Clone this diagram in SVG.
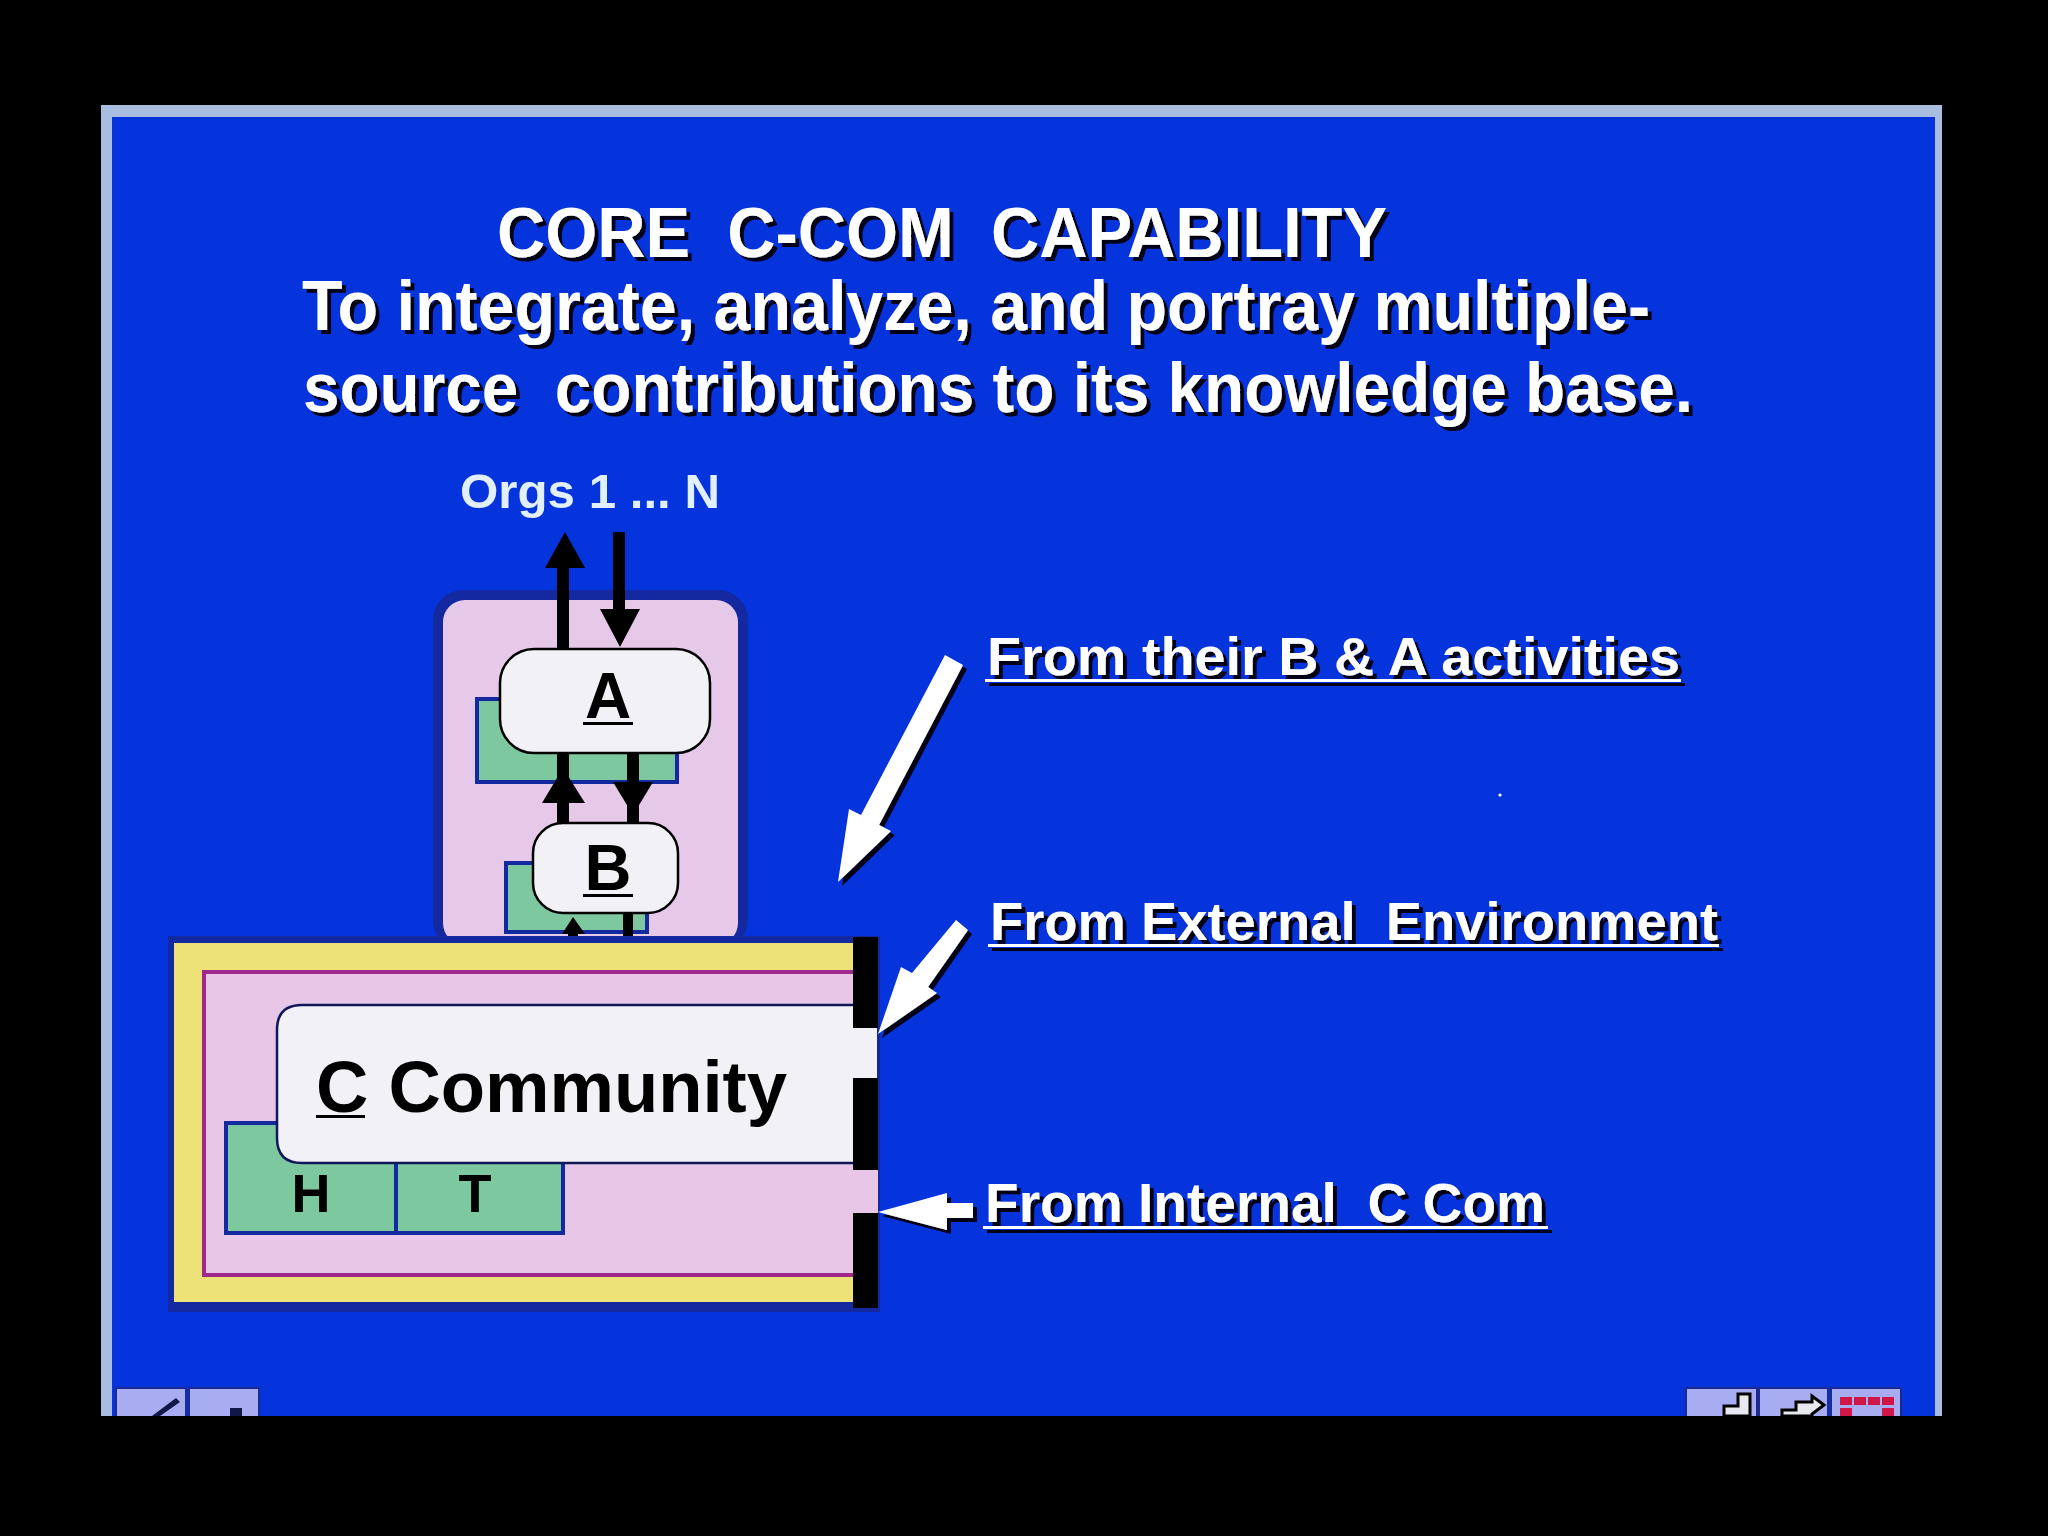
<svg xmlns="http://www.w3.org/2000/svg" width="2048" height="1536" viewBox="0 0 2048 1536">
<defs>
<style>
.t{font-family:"Liberation Sans",Arial,sans-serif;font-weight:bold}
.w{fill:#ffffff}
.k{fill:#000000}
.nav{fill:#1428a0}
.grn{fill:#7ec8a0;stroke:#1428a0;stroke-width:4}
.node{fill:#f2f2f6;stroke:#000000;stroke-width:2.5}
.blk{fill:#000000}
.btn{fill:#a8acf0;stroke:#1a2a90;stroke-width:2}
</style>
<filter id="sh" x="-5%" y="-20%" width="110%" height="140%">
<feDropShadow dx="4" dy="4" stdDeviation="0.6" flood-color="#000018" flood-opacity="1"/>
</filter>
</defs>
<rect x="0" y="0" width="2048" height="1536" fill="#000000"/>
<g id="panel">
<rect x="101" y="105" width="1841" height="1311" fill="#a9bde0"/>
<rect x="112" y="117" width="1823" height="1299" fill="#0634dc"/>
<circle cx="1500" cy="795" r="1.6" fill="#ffffff"/>
</g>
<g id="title" filter="url(#sh)">
<text class="t w" x="497" y="257" font-size="70" textLength="890" lengthAdjust="spacingAndGlyphs" xml:space="preserve">CORE  C-COM  CAPABILITY</text>
<text class="t w" x="302" y="330" font-size="70" textLength="1348" lengthAdjust="spacingAndGlyphs">To integrate, analyze, and portray multiple-</text>
<text class="t w" x="303" y="412" font-size="70" textLength="1390" lengthAdjust="spacingAndGlyphs" xml:space="preserve">source  contributions to its knowledge base.</text>
</g>
<g id="orgs">
<text class="t" x="460" y="508" font-size="49" fill="#e2efff" textLength="260" lengthAdjust="spacingAndGlyphs">Orgs 1 ... N</text>
</g>
<g id="container-ab">
<rect x="433" y="590" width="315" height="360" rx="30" class="nav"/>
<rect x="443" y="600" width="295" height="345" rx="22" fill="#e6c8e8"/>
<rect x="477" y="699" width="200" height="83" class="grn"/>
<rect x="506" y="863" width="141" height="69" class="grn"/>
</g>
<g id="connectors">
<rect x="557" y="566" width="12" height="84" class="blk"/>
<polygon points="545,568 585,568 565,532" class="blk"/>
<rect x="613" y="532" width="12" height="80" class="blk"/>
<polygon points="600,609 640,609 620,647" class="blk"/>
<rect x="557" y="752" width="12" height="72" class="blk"/>
<polygon points="542,803 585,803 563,768" class="blk"/>
<rect x="627" y="752" width="12" height="72" class="blk"/>
<polygon points="613,782 653,782 633,815" class="blk"/>
<rect x="568" y="926" width="10" height="14" class="blk"/>
<polygon points="562,934 585,934 573,917" class="blk"/>
<rect x="623" y="912" width="10" height="26" class="blk"/>
</g>
<g id="node-a">
<rect x="500" y="649" width="210" height="104" rx="34" class="node"/>
<text class="t k" x="608" y="718" font-size="64" text-anchor="middle">A</text>
<rect x="583" y="722" width="50" height="3" class="blk"/>
</g>
<g id="node-b">
<rect x="533" y="823" width="145" height="90" rx="30" class="node"/>
<text class="t k" x="608" y="890" font-size="65" text-anchor="middle">B</text>
<rect x="583" y="894" width="50" height="3" class="blk"/>
</g>
<g id="community">
<rect x="168" y="936" width="712" height="376" class="nav"/>
<rect x="174" y="943" width="690" height="359" fill="#ece278"/>
<rect x="202" y="970" width="662" height="307" fill="#a0288c"/>
<rect x="206" y="974" width="658" height="299" fill="#e8c6e8"/>
<rect x="226" y="1123" width="170" height="110" class="grn"/>
<rect x="396" y="1123" width="167" height="110" class="grn"/>
<text class="t k" x="311" y="1212" font-size="54" text-anchor="middle">H</text>
<text class="t k" x="475" y="1212" font-size="54" text-anchor="middle">T</text>
<path d="M877,1005 L302,1005 Q277,1005 277,1030 L277,1138 Q277,1163 302,1163 L877,1163" fill="#f2f2f6" stroke="#10185a" stroke-width="2.5"/>
<rect x="853" y="937" width="25" height="91" class="blk"/>
<rect x="853" y="1078" width="25" height="92" class="blk"/>
<rect x="853" y="1170" width="25" height="43" fill="#e8c6e8"/>
<rect x="853" y="1213" width="25" height="95" class="blk"/>
<text class="t k" x="316" y="1112" font-size="72" textLength="471" lengthAdjust="spacingAndGlyphs">C Community</text>
<rect x="316" y="1115" width="49" height="3" class="blk"/>
</g>
<g id="inputs" filter="url(#sh)">
<polygon points="945,655 963,665 879,825 891,831 838,882 849,809 861,815" class="w"/>
<polygon points="956,920 968,930 928,987 937,993 878,1034 901,967 912,973" class="w"/>
<polygon points="878,1212 947,1193 947,1203 973,1203 973,1218 947,1218 947,1230" class="w"/>
</g>
<g id="labels" filter="url(#sh)">
<text class="t w" x="987" y="675" font-size="53" textLength="693" lengthAdjust="spacingAndGlyphs">From their B &amp; A activities</text>
<rect x="985" y="679" width="696" height="3" class="w"/>
<text class="t w" x="990" y="940" font-size="53" textLength="728" lengthAdjust="spacingAndGlyphs" xml:space="preserve">From External  Environment</text>
<rect x="988" y="944" width="731" height="3" class="w"/>
<text class="t w" x="985" y="1222" font-size="55" textLength="560" lengthAdjust="spacingAndGlyphs" xml:space="preserve">From Internal  C Com</text>
<rect x="983" y="1226" width="565" height="3" class="w"/>
</g>
<g id="buttons">
<rect x="116" y="1388" width="70" height="40" class="btn"/>
<rect x="189" y="1388" width="70" height="40" class="btn"/>
<polygon points="152,1416 176,1398 180,1402 160,1416" fill="#101848"/>
<rect x="230" y="1408" width="12" height="8" fill="#101848"/>
<rect x="1686" y="1388" width="71" height="40" class="btn"/>
<rect x="1759" y="1388" width="69" height="40" class="btn"/>
<rect x="1831" y="1388" width="70" height="40" class="btn"/>
<path d="M1724,1416 L1724,1406 L1738,1406 L1738,1394 L1750,1394 L1750,1416 Z" fill="#e8e8f0" stroke="#000" stroke-width="3"/>
<path d="M1782,1416 L1782,1410 L1796,1410 L1796,1402 L1812,1402 L1812,1396 L1824,1405 L1812,1414 L1812,1416 Z" fill="#e8e8f0" stroke="#000" stroke-width="3"/>
<rect x="1840" y="1397" width="12" height="8" fill="#d01848"/>
<rect x="1854" y="1397" width="12" height="8" fill="#d01848"/>
<rect x="1868" y="1397" width="12" height="8" fill="#d01848"/>
<rect x="1882" y="1397" width="12" height="8" fill="#d01848"/>
<rect x="1840" y="1408" width="12" height="8" fill="#d01848"/>
<rect x="1882" y="1408" width="12" height="8" fill="#d01848"/>
</g>
<rect x="0" y="1416" width="2048" height="120" fill="#000000"/>
</svg>
